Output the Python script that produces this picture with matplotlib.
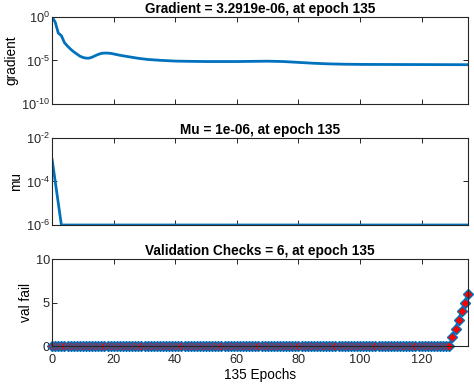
import matplotlib
matplotlib.use('Agg')
import matplotlib.pyplot as plt
import numpy as np
from matplotlib.ticker import FixedLocator, FixedFormatter

plt.rcParams['font.family'] = ['Liberation Sans', 'DejaVu Sans']
plt.rcParams['mathtext.fontset'] = 'custom'
plt.rcParams['mathtext.rm'] = 'Liberation Sans'
plt.rcParams['mathtext.it'] = 'Liberation Sans'

# gradient (epoch, log10 value)
grad_epochs = [0, 1, 2, 3, 4, 5, 6, 7, 8, 9, 10, 11, 12, 13, 14, 15, 16, 17, 18, 19,
               20, 22, 25, 28, 31, 35, 40, 45, 50, 60, 70, 75, 80, 85, 90, 95, 100,
               110, 120, 130, 135]
grad_log = [0.0, -0.6, -1.85, -2.15, -2.95, -3.35, -3.7, -4.0, -4.25, -4.5, -4.65,
            -4.73, -4.73, -4.62, -4.45, -4.3, -4.18, -4.15, -4.15, -4.18, -4.25,
            -4.4, -4.58, -4.75, -4.88, -4.98, -5.07, -5.1, -5.12, -5.12, -5.08,
            -5.12, -5.22, -5.32, -5.39, -5.43, -5.45, -5.46, -5.47, -5.48, -5.4826]

epochs = np.arange(0, 136)
mu = [1e-3, 1e-4, 1e-5] + [1e-6] * 133
val_fail = [0] * 130 + [1, 2, 3, 4, 5, 6]

titles = ['Gradient = 3.2919e-06, at epoch 135',
          'Mu = 1e-06, at epoch 135',
          'Validation Checks = 6, at epoch 135']
ylabels = ['gradient', 'mu', 'val fail']
xticks = [0, 20, 40, 60, 80, 100, 120]
grad_ticklabels = [r'$10^{\text{-10}}$', r'$10^{\text{-5}}$', r'$10^{0}$']
mu_ticklabels = [r'$10^{\text{-6}}$', r'$10^{\text{-4}}$', r'$10^{\text{-2}}$']

blue = '#0072BD'
axcol = '#262626'
fs = 9.8   # titles / labels
tfs = 9.2  # tick labels

fig = plt.figure(figsize=(4.74, 3.86), dpi=100)
ax1 = fig.add_axes([0.110, 0.7306, 0.877, 0.2254])
ax2 = fig.add_axes([0.110, 0.4171, 0.877, 0.2254])
ax3 = fig.add_axes([0.110, 0.1036, 0.877, 0.2254])

ax1.semilogy(grad_epochs, 10.0 ** np.array(grad_log), color=blue, lw=2)
ax1.set_ylim(1e-10, 1e0)
ax1.yaxis.set_major_locator(FixedLocator([1e-10, 1e-5, 1e0]))
ax1.yaxis.set_major_formatter(FixedFormatter(grad_ticklabels))

ax2.semilogy(epochs, mu, color=blue, lw=2)
ax2.set_ylim(1e-6, 1e-2)
ax2.yaxis.set_major_locator(FixedLocator([1e-6, 1e-4, 1e-2]))
ax2.yaxis.set_major_formatter(FixedFormatter(mu_ticklabels))

ax3.plot(epochs, val_fail, color=blue, lw=2, marker='D', markersize=5,
         markerfacecolor='red', markeredgecolor=blue, markeredgewidth=1.0)
ax3.set_ylim(0, 10)
ax3.set_yticks([0, 5, 10])
ax3.set_xlabel('135 Epochs', fontsize=fs, labelpad=1)

for ax, t, yl in zip([ax1, ax2, ax3], titles, ylabels):
    ax.set_xlim(0, 135)
    ax.set_xticks(xticks)
    ax.yaxis.set_minor_locator(FixedLocator([]))
    ax.set_title(t, fontsize=fs, fontweight='bold', pad=3)
    ax.set_ylabel(yl, fontsize=fs, labelpad=2)
    ax.tick_params(direction='in', top=True, right=True, length=3.5, width=0.7,
                   labelsize=tfs, colors=axcol)
    ax.tick_params(axis='y', pad=1.5)
    ax.tick_params(axis='x', pad=6)
    ax.tick_params(which='minor', length=0)
    for s in ax.spines.values():
        s.set_color(axcol)
        s.set_linewidth(0.8)

ax1.tick_params(labelbottom=False)
ax2.tick_params(labelbottom=False)
ax3.lines[0].set_clip_on(False)

fig.savefig('out.png', dpi=100)
